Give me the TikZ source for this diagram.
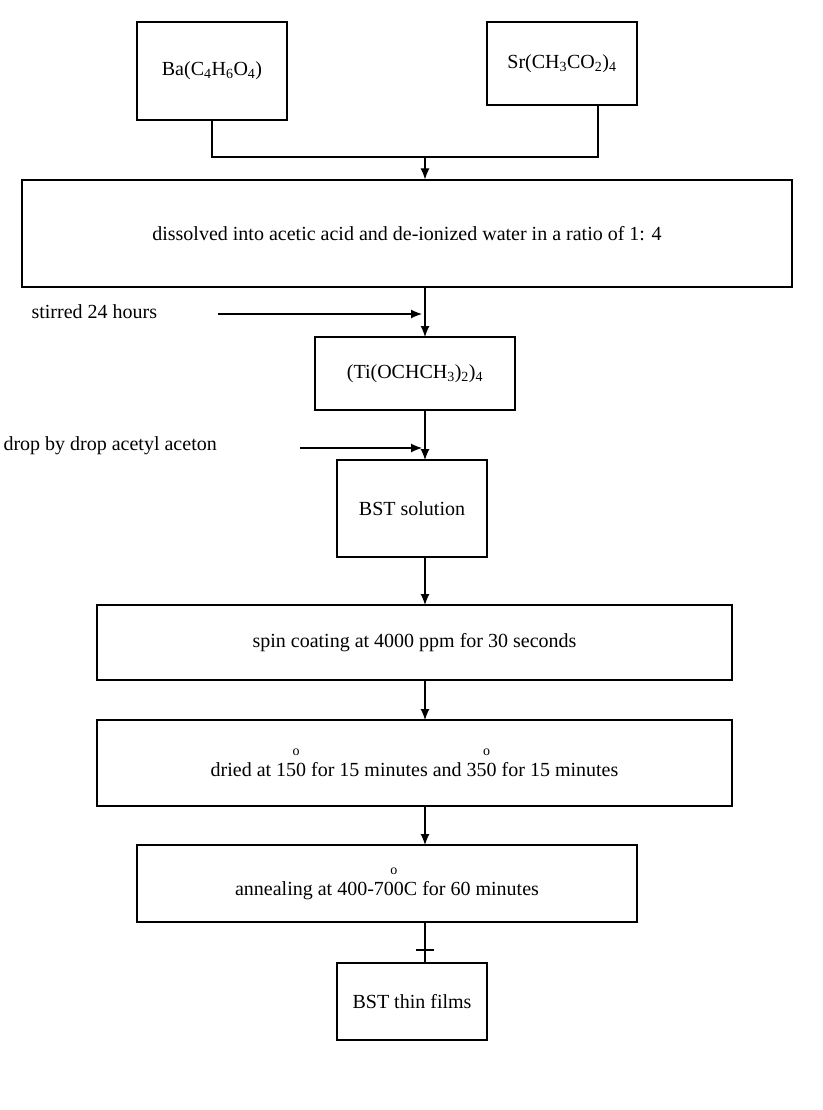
\documentclass[tikz,border=0pt]{standalone}
\usepackage{fontspec}
\setmainfont{Liberation Serif}
\usetikzlibrary{arrows.meta}
\begin{document}
\begin{tikzpicture}[x=1pt,y=-1pt,
  bx/.style={draw,line width=1.2pt,minimum width=#1,inner sep=0pt},
  ar/.style={-{Latex[length=11pt,width=9pt]},line width=1.2pt},
  ln/.style={line width=1.2pt},
  font=\fontsize{20}{22}\selectfont]
\useasboundingbox (0,0) rectangle (822,1110);
\newcommand{\dg}{\makebox[0pt][c]{\raisebox{2.3ex}{\fontsize{14}{14}\selectfont o}}}
\node[bx=150pt,minimum height=98pt] (ba) at (212,71) {Ba(C\textsubscript{4}H\textsubscript{6}O\textsubscript{4})};
\node[bx=150pt,minimum height=83pt] (sr) at (562,63.5) {Sr(CH\textsubscript{3}CO\textsubscript{2})\textsubscript{4}};
\node[bx=770pt,minimum height=107pt] (dis) at (407,233.5) {dissolved into acetic acid and de-ionized water in a ratio of 1: 4};
\node[bx=200pt,minimum height=73pt] (ti) at (415,373.5) {(Ti(OCHCH\textsubscript{3})\textsubscript{2})\textsubscript{4}};
\node[bx=150pt,minimum height=97pt] (bst) at (412,508.5) {BST solution};
\node[bx=635pt,minimum height=75pt] (spin) at (414.5,642.5) {spin coating at 4000 ppm for 30 seconds};
\node[bx=635pt,minimum height=86pt] (dry) at (414.5,763) {dried at 15\dg0 for 15 minutes and 35\dg0 for 15 minutes};
\node[bx=500pt,minimum height=77pt] (ann) at (387,883.5) {annealing at 400-70\dg0C for 60 minutes};
\node[bx=150pt,minimum height=77pt] (thin) at (412,1001.5) {BST thin films};
\coordinate (j) at (425,157);
\draw[ln] (ba.south) |- (j);
\draw[ln] (sr.south -| 598,0) |- (j);
\draw[ar] (j) -- (j |- dis.north);
\draw[ar] (425,287) -- (425,337);
\node[anchor=west] (st) at (28,312) {stirred 24 hours};
\draw[ar] (218,314) -- (422,314);
\draw[ar] (425,410) -- (425,460);
\node[anchor=west] (dr) at (0,446) {drop by drop acetyl aceton};
\draw[ar] (300,448) -- (422,448);
\draw[ar] (bst.south -| 425,0) -- (425,605);
\draw[ar] (425,680) -- (425,720);
\draw[ar] (425,806) -- (425,845);
\draw[ln] (425,922) -- (425,963);
\draw[ln] (416,950) -- (434,950);
\end{tikzpicture}
\end{document}
